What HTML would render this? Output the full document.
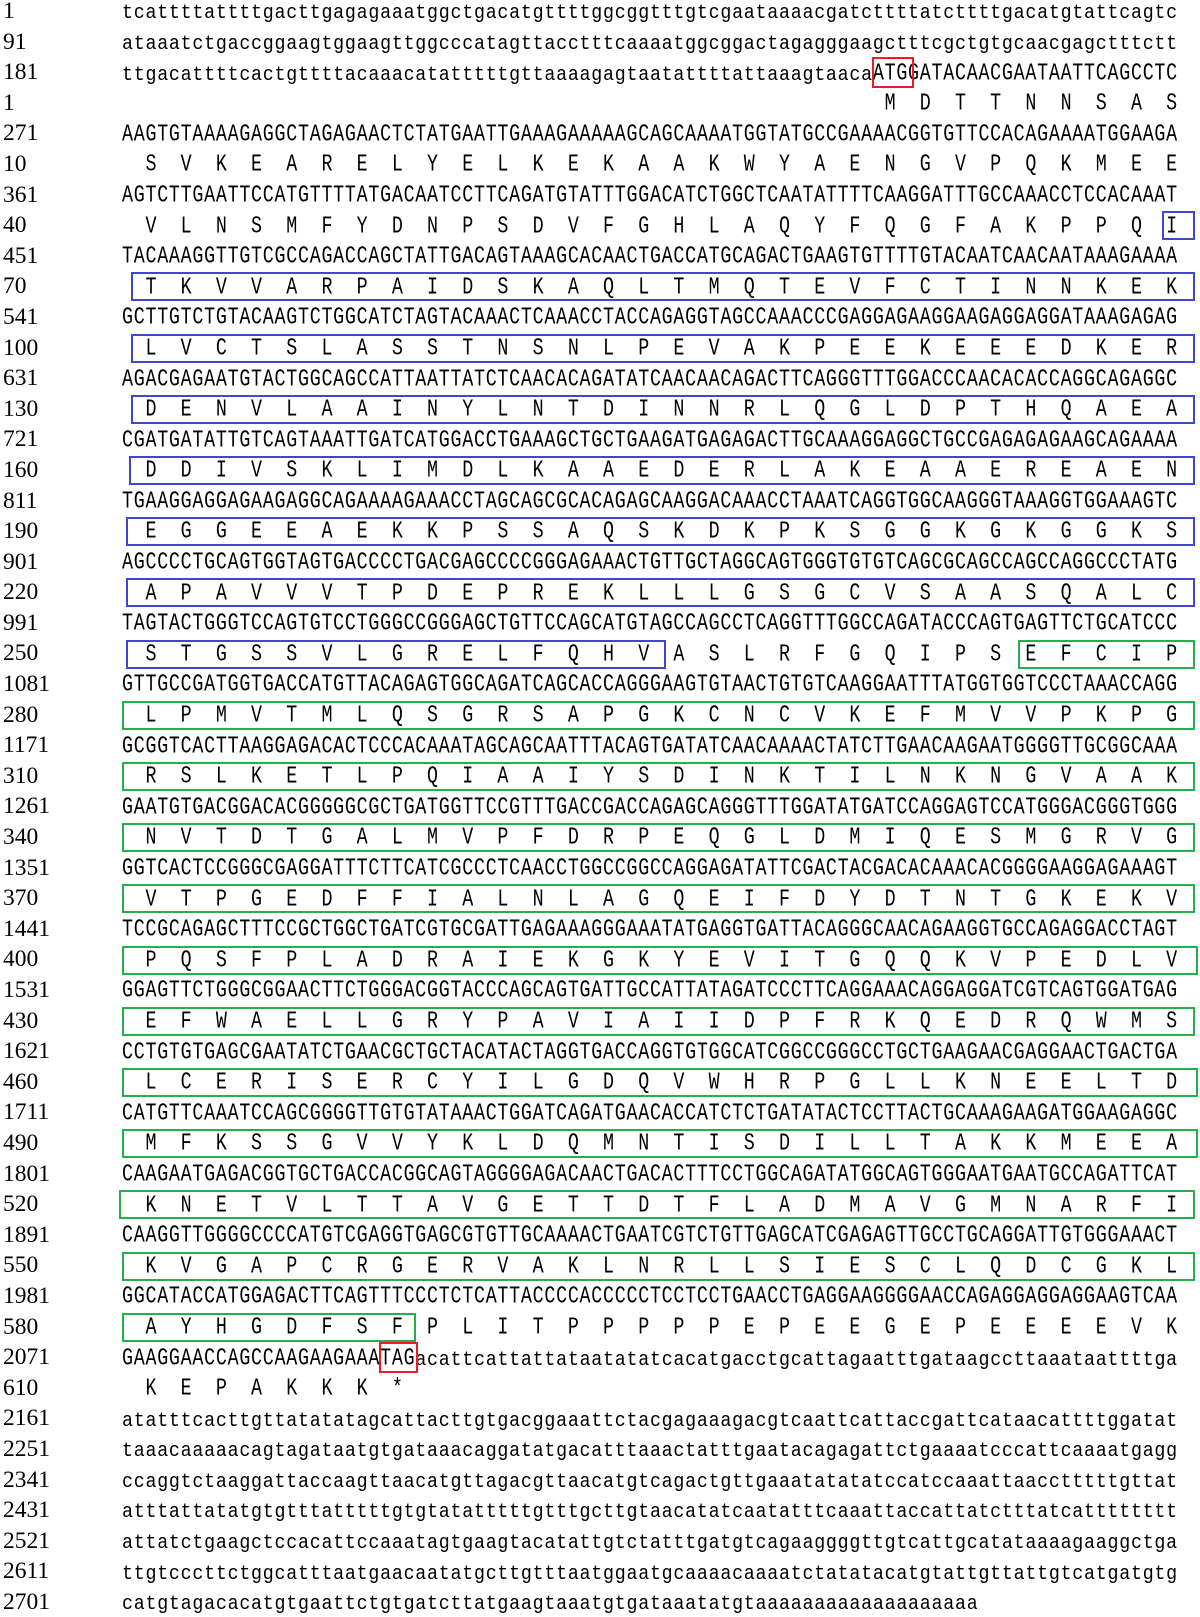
<!DOCTYPE html>
<html>
<head>
<meta charset="utf-8">
<style>
  html{margin:0;padding:0;background:#fff;overflow:hidden;width:1200px;height:1617px;}
  body{margin:0;padding:0;background:#fff;width:1200px;height:1617px;position:relative;overflow:hidden;}
  .n{position:absolute;left:3px;top:-4px;font-family:"Liberation Serif",serif;font-size:23.5px;line-height:30.6px;color:#000;}
  .n div{height:30.6px;white-space:nowrap;}
  .s{position:absolute;left:122px;top:-2.63px;width:1078px;font-family:"Liberation Mono",monospace;font-size:18.33px;letter-spacing:0.7335px;line-height:30.6px;color:#000;}
  .s > div{height:30.6px;white-space:pre;}
  .u{transform:scaleY(1.32);transform-origin:0 14.13px;}
  .l{transform:translateY(1.2px) scaleY(1.13);transform-origin:0 14.13px;}
  .m span{display:inline-block;white-space:pre;}
  .b{position:absolute;box-sizing:border-box;border:2px solid;}
  .r{border-color:#ed1c24;}
  .bl{border-color:#3f48cc;}
  .g{border-color:#22b14c;}
</style>
</head>
<body>
<div class="n"><div>1</div><div>91</div><div>181</div><div>1</div><div>271</div><div>10</div><div>361</div><div>40</div><div>451</div><div>70</div><div>541</div><div>100</div><div>631</div><div>130</div><div>721</div><div>160</div><div>811</div><div>190</div><div>901</div><div>220</div><div>991</div><div>250</div><div>1081</div><div>280</div><div>1171</div><div>310</div><div>1261</div><div>340</div><div>1351</div><div>370</div><div>1441</div><div>400</div><div>1531</div><div>430</div><div>1621</div><div>460</div><div>1711</div><div>490</div><div>1801</div><div>520</div><div>1891</div><div>550</div><div>1981</div><div>580</div><div>2071</div><div>610</div><div>2161</div><div>2251</div><div>2341</div><div>2431</div><div>2521</div><div>2611</div><div>2701</div></div>

<div class="s"><div class="l">tcattttattttgacttgagagaaatggctgacatgttttggcggtttgtcgaataaaacgatcttttatcttttgacatgtattcagtc</div><div class="l">ataaatctgaccggaagtggaagttggcccatagttacctttcaaaatggcggactagagggaagctttcgctgtgcaacgagctttctt</div><div class="m"><span class="l">ttgacattttcactgttttacaaacatatttttgttaaaagagtaatattttattaaagtaaca</span><span class="u">ATGGATACAACGAATAATTCAGCCTC</span></div><div class="u" style="padding-left:762.6px">M  D  T  T  N  N  S  A  S</div><div class="u">AAGTGTAAAAGAGGCTAGAGAACTCTATGAATTGAAAGAAAAAGCAGCAAAATGGTATGCCGAAAACGGTGTTCCACAGAAAATGGAAGA</div><div class="u">  S  V  K  E  A  R  E  L  Y  E  L  K  E  K  A  A  K  W  Y  A  E  N  G  V  P  Q  K  M  E  E</div><div class="u">AGTCTTGAATTCCATGTTTTATGACAATCCTTCAGATGTATTTGGACATCTGGCTCAATATTTTCAAGGATTTGCCAAACCTCCACAAAT</div><div class="u">  V  L  N  S  M  F  Y  D  N  P  S  D  V  F  G  H  L  A  Q  Y  F  Q  G  F  A  K  P  P  Q  I</div><div class="u">TACAAAGGTTGTCGCCAGACCAGCTATTGACAGTAAAGCACAACTGACCATGCAGACTGAAGTGTTTTGTACAATCAACAATAAAGAAAA</div><div class="u">  T  K  V  V  A  R  P  A  I  D  S  K  A  Q  L  T  M  Q  T  E  V  F  C  T  I  N  N  K  E  K</div><div class="u">GCTTGTCTGTACAAGTCTGGCATCTAGTACAAACTCAAACCTACCAGAGGTAGCCAAACCCGAGGAGAAGGAAGAGGAGGATAAAGAGAG</div><div class="u">  L  V  C  T  S  L  A  S  S  T  N  S  N  L  P  E  V  A  K  P  E  E  K  E  E  E  D  K  E  R</div><div class="u">AGACGAGAATGTACTGGCAGCCATTAATTATCTCAACACAGATATCAACAACAGACTTCAGGGTTTGGACCCAACACACCAGGCAGAGGC</div><div class="u">  D  E  N  V  L  A  A  I  N  Y  L  N  T  D  I  N  N  R  L  Q  G  L  D  P  T  H  Q  A  E  A</div><div class="u">CGATGATATTGTCAGTAAATTGATCATGGACCTGAAAGCTGCTGAAGATGAGAGACTTGCAAAGGAGGCTGCCGAGAGAGAAGCAGAAAA</div><div class="u">  D  D  I  V  S  K  L  I  M  D  L  K  A  A  E  D  E  R  L  A  K  E  A  A  E  R  E  A  E  N</div><div class="u">TGAAGGAGGAGAAGAGGCAGAAAAGAAACCTAGCAGCGCACAGAGCAAGGACAAACCTAAATCAGGTGGCAAGGGTAAAGGTGGAAAGTC</div><div class="u">  E  G  G  E  E  A  E  K  K  P  S  S  A  Q  S  K  D  K  P  K  S  G  G  K  G  K  G  G  K  S</div><div class="u">AGCCCCTGCAGTGGTAGTGACCCCTGACGAGCCCCGGGAGAAACTGTTGCTAGGCAGTGGGTGTGTCAGCGCAGCCAGCCAGGCCCTATG</div><div class="u">  A  P  A  V  V  V  T  P  D  E  P  R  E  K  L  L  L  G  S  G  C  V  S  A  A  S  Q  A  L  C</div><div class="u">TAGTACTGGGTCCAGTGTCCTGGGCCGGGAGCTGTTCCAGCATGTAGCCAGCCTCAGGTTTGGCCAGATACCCAGTGAGTTCTGCATCCC</div><div class="u">  S  T  G  S  S  V  L  G  R  E  L  F  Q  H  V  A  S  L  R  F  G  Q  I  P  S  E  F  C  I  P</div><div class="u">GTTGCCGATGGTGACCATGTTACAGAGTGGCAGATCAGCACCAGGGAAGTGTAACTGTGTCAAGGAATTTATGGTGGTCCCTAAACCAGG</div><div class="u">  L  P  M  V  T  M  L  Q  S  G  R  S  A  P  G  K  C  N  C  V  K  E  F  M  V  V  P  K  P  G</div><div class="u">GCGGTCACTTAAGGAGACACTCCCACAAATAGCAGCAATTTACAGTGATATCAACAAAACTATCTTGAACAAGAATGGGGTTGCGGCAAA</div><div class="u">  R  S  L  K  E  T  L  P  Q  I  A  A  I  Y  S  D  I  N  K  T  I  L  N  K  N  G  V  A  A  K</div><div class="u">GAATGTGACGGACACGGGGGCGCTGATGGTTCCGTTTGACCGACCAGAGCAGGGTTTGGATATGATCCAGGAGTCCATGGGACGGGTGGG</div><div class="u">  N  V  T  D  T  G  A  L  M  V  P  F  D  R  P  E  Q  G  L  D  M  I  Q  E  S  M  G  R  V  G</div><div class="u">GGTCACTCCGGGCGAGGATTTCTTCATCGCCCTCAACCTGGCCGGCCAGGAGATATTCGACTACGACACAAACACGGGGAAGGAGAAAGT</div><div class="u">  V  T  P  G  E  D  F  F  I  A  L  N  L  A  G  Q  E  I  F  D  Y  D  T  N  T  G  K  E  K  V</div><div class="u">TCCGCAGAGCTTTCCGCTGGCTGATCGTGCGATTGAGAAAGGGAAATATGAGGTGATTACAGGGCAACAGAAGGTGCCAGAGGACCTAGT</div><div class="u">  P  Q  S  F  P  L  A  D  R  A  I  E  K  G  K  Y  E  V  I  T  G  Q  Q  K  V  P  E  D  L  V</div><div class="u">GGAGTTCTGGGCGGAACTTCTGGGACGGTACCCAGCAGTGATTGCCATTATAGATCCCTTCAGGAAACAGGAGGATCGTCAGTGGATGAG</div><div class="u">  E  F  W  A  E  L  L  G  R  Y  P  A  V  I  A  I  I  D  P  F  R  K  Q  E  D  R  Q  W  M  S</div><div class="u">CCTGTGTGAGCGAATATCTGAACGCTGCTACATACTAGGTGACCAGGTGTGGCATCGGCCGGGCCTGCTGAAGAACGAGGAACTGACTGA</div><div class="u">  L  C  E  R  I  S  E  R  C  Y  I  L  G  D  Q  V  W  H  R  P  G  L  L  K  N  E  E  L  T  D</div><div class="u">CATGTTCAAATCCAGCGGGGTTGTGTATAAACTGGATCAGATGAACACCATCTCTGATATACTCCTTACTGCAAAGAAGATGGAAGAGGC</div><div class="u">  M  F  K  S  S  G  V  V  Y  K  L  D  Q  M  N  T  I  S  D  I  L  L  T  A  K  K  M  E  E  A</div><div class="u">CAAGAATGAGACGGTGCTGACCACGGCAGTAGGGGAGACAACTGACACTTTCCTGGCAGATATGGCAGTGGGAATGAATGCCAGATTCAT</div><div class="u">  K  N  E  T  V  L  T  T  A  V  G  E  T  T  D  T  F  L  A  D  M  A  V  G  M  N  A  R  F  I</div><div class="u">CAAGGTTGGGGCCCCATGTCGAGGTGAGCGTGTTGCAAAACTGAATCGTCTGTTGAGCATCGAGAGTTGCCTGCAGGATTGTGGGAAACT</div><div class="u">  K  V  G  A  P  C  R  G  E  R  V  A  K  L  N  R  L  L  S  I  E  S  C  L  Q  D  C  G  K  L</div><div class="u">GGCATACCATGGAGACTTCAGTTTCCCTCTCATTACCCCACCCCCTCCTCCTGAACCTGAGGAAGGGGAACCAGAGGAGGAGGAAGTCAA</div><div class="u">  A  Y  H  G  D  F  S  F  P  L  I  T  P  P  P  P  P  E  P  E  E  G  E  P  E  E  E  E  V  K</div><div class="m"><span class="u">GAAGGAACCAGCCAAGAAGAAATAG</span><span class="l">acattcattattataatatatcacatgacctgcattagaatttgataagccttaaataattttga</span></div><div class="u">  K  E  P  A  K  K  K  *</div><div class="l">atatttcacttgttatatatagcattacttgtgacggaaattctacgagaaagacgtcaattcattaccgattcataacattttggatat</div><div class="l">taaacaaaaacagtagataatgtgataaacaggatatgacatttaaactatttgaatacagagattctgaaaatcccattcaaaatgagg</div><div class="l">ccaggtctaaggattaccaagttaacatgttagacgttaacatgtcagactgttgaaatatatatccatccaaattaacctttttgttat</div><div class="l">atttattatatgtgtttatttttgtgtatatttttgtttgcttgtaacatatcaatatttcaaattaccattatctttatcatttttttt</div><div class="l">attatctgaagctccacattccaaatagtgaagtacatattgtctatttgatgtcagaaggggttgtcattgcatataaaagaaggctga</div><div class="l">ttgtcccttctggcatttaatgaacaatatgcttgtttaatggaatgcaaaacaaaatctatatacatgtattgttattgtcatgatgtg</div><div class="l">catgtagacacatgtgaattctgtgatcttatgaagtaaatgtgataaatatgtaaaaaaaaaaaaaaaaaaa</div></div>

<div class="b r" style="left:872px;top:57px;width:42px;height:31px;"></div>
<div class="b r" style="left:379px;top:1342px;width:39px;height:31px;"></div>

<div class="b bl" style="left:1162px;top:211px;width:33px;height:29px;"></div>
<div class="b bl" style="left:131px;top:272.4px;width:1064px;height:29px;"></div>
<div class="b bl" style="left:131px;top:333.6px;width:1064px;height:29px;"></div>
<div class="b bl" style="left:131px;top:394.8px;width:1064px;height:29px;"></div>
<div class="b bl" style="left:129px;top:456px;width:1066px;height:29px;"></div>
<div class="b bl" style="left:126px;top:517.2px;width:1069px;height:29px;"></div>
<div class="b bl" style="left:126px;top:578.4px;width:1069px;height:29px;"></div>
<div class="b bl" style="left:126px;top:639.6px;width:540px;height:29px;"></div>

<div class="b g" style="left:1018px;top:639.6px;width:177px;height:29px;"></div>
<div class="b g" style="left:122px;top:700.8px;width:1073px;height:29px;"></div>
<div class="b g" style="left:122px;top:762px;width:1073px;height:29px;"></div>
<div class="b g" style="left:122px;top:823.2px;width:1073px;height:29px;"></div>
<div class="b g" style="left:122px;top:884.4px;width:1073px;height:29px;"></div>
<div class="b g" style="left:122px;top:945.6px;width:1076px;height:29px;"></div>
<div class="b g" style="left:122px;top:1006.8px;width:1073px;height:29px;"></div>
<div class="b g" style="left:122px;top:1068px;width:1076px;height:29px;"></div>
<div class="b g" style="left:122px;top:1129.2px;width:1076px;height:29px;"></div>
<div class="b g" style="left:119px;top:1190.4px;width:1076px;height:29px;"></div>
<div class="b g" style="left:122px;top:1251.6px;width:1073px;height:29px;"></div>
<div class="b g" style="left:122px;top:1312.8px;width:294px;height:29px;"></div>
</body>
</html>
